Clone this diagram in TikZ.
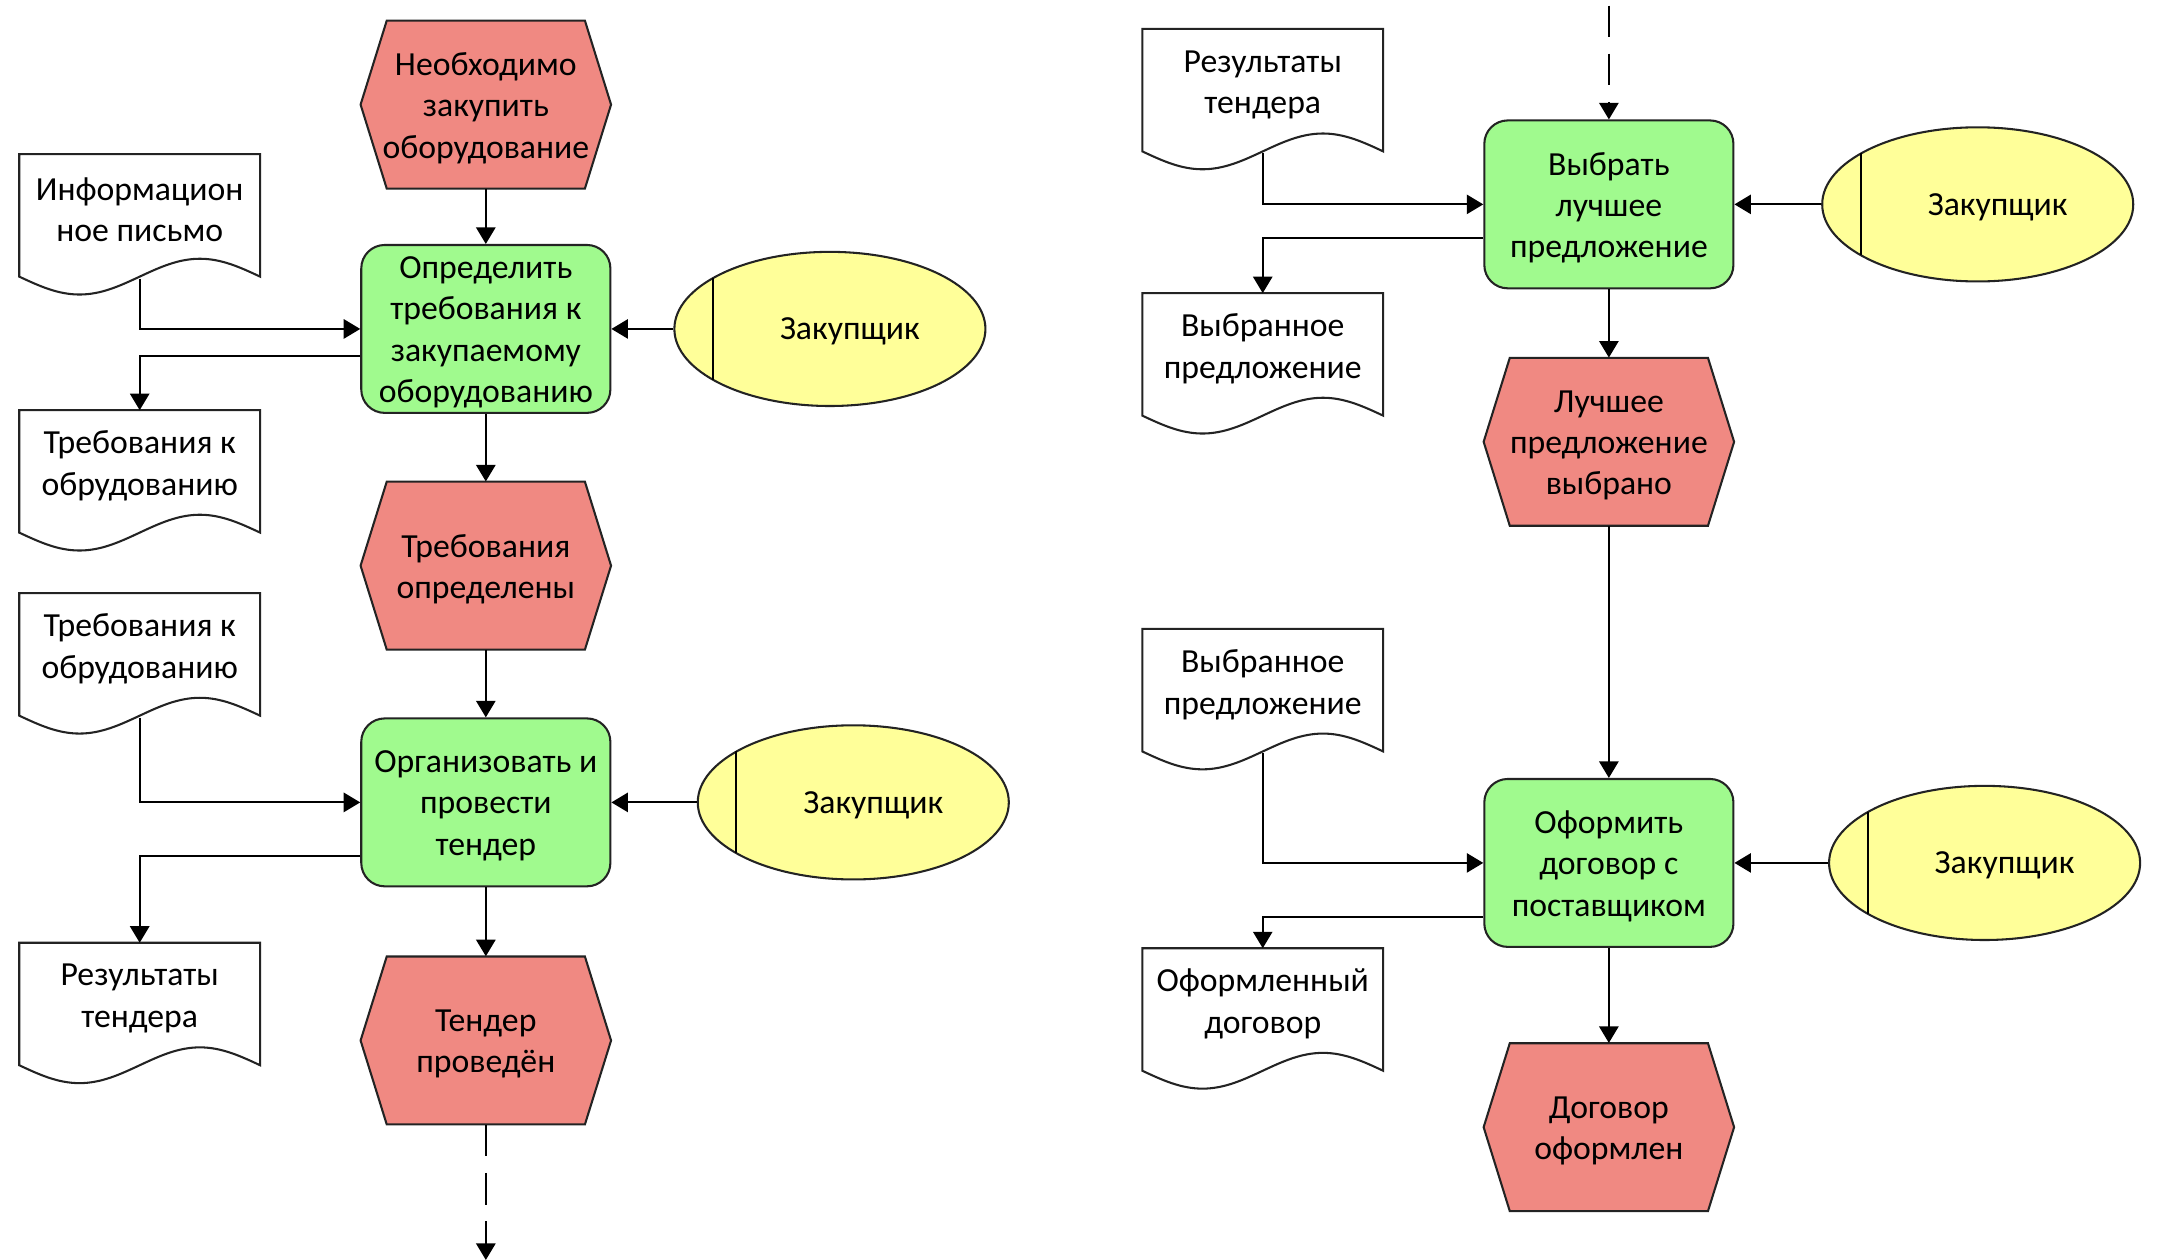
\documentclass[tikz,border=0pt]{standalone}
\usepackage{fontspec}
\setmainfont{Carlito}
\usetikzlibrary{shapes.geometric,arrows.meta,calc}

\definecolor{evtfill}{RGB}{240,137,130}
\definecolor{funfill}{RGB}{160,250,142}
\definecolor{actfill}{RGB}{255,255,153}
\definecolor{edgec}{RGB}{35,35,35}

\tikzset{
  every node/.style={font=\fontsize{24.5}{30}\selectfont, align=center, inner sep=0pt, text=black},
  conn/.style={line width=1.45pt, draw=black, -{Triangle[width=14pt,length=12pt]}},
  dashconn/.style={conn, dash pattern=on 23pt off 12pt},
  outline/.style={draw=edgec, line width=1.5pt},
  fun/.style={outline, fill=funfill, rounded corners=17pt, minimum width=181pt, minimum height=122pt},
  act/.style={outline, fill=actfill, ellipse, minimum width=226pt, minimum height=112pt},
  evtbox/.style={minimum width=182pt, minimum height=122pt},
  docbox/.style={minimum width=175pt, minimum height=90pt, anchor=north},
}

% event: name, cx, cy, text
\newcommand{\EvtNode}[4]{%
  \filldraw[outline, fill=evtfill] (#2-91,#3) -- (#2-72,#3-61) -- (#2+72,#3-61) -- (#2+91,#3) -- (#2+72,#3+61) -- (#2-72,#3+61) -- cycle;
  \node[evtbox] (#1) at (#2,#3) {};
  \node at (#2,#3+2.5) {#4};
}
% function: name, cx, cy, text
\newcommand{\FunNode}[4]{%
  \node[fun] (#1) at (#2,#3) {};
  \node at (#2,#3+2.5) {#4};
}
% document: name, left x, top y, text
\newcommand{\DocNode}[4]{%
  \filldraw[outline, fill=white] (#2,#3) -- (#2+175,#3) -- (#2+175,#3+89)
     sin (#2+131.25,#3+76) cos (#2+87.5,#3+89) sin (#2+43.75,#3+102) cos (#2,#3+89) -- cycle;
  \node[docbox] (#1) at (#2+87.5,#3) {};
  \node at (#2+87.5,#3+40.5) {#4};
}
% actor: name, cx, cy
\newcommand{\ActNode}[3]{%
  \node[act] (#1) at (#2,#3) {};
  \draw[line width=1.5pt, draw=black] (#2-85,#3-37) -- (#2-85,#3+37);
  \node at (#2+14.5,#3+2) {Закупщик};
}

\begin{document}
\begin{tikzpicture}[x=1pt,y=-1pt]
\fill[white] (0,0) rectangle (1568,915.5);
\useasboundingbox (0,0) rectangle (1568,915.5);

% ---------- left column ----------
\EvtNode{e1}{353}{76}{Необходимо\\закупить\\оборудование}
\FunNode{f1}{353}{239}{Определить\\требования к\\закупаемому\\оборудованию}
\DocNode{d1}{14}{112}{Информацион\\ное письмо}
\DocNode{d2}{14}{298}{Требования к\\обрудованию}
\ActNode{o1}{603}{239}
\EvtNode{e2}{353}{411}{Требования\\определены}
\FunNode{f2}{353}{583}{Организовать и\\провести\\тендер}
\DocNode{d3}{14}{431}{Требования к\\обрудованию}
\DocNode{d4}{14}{685}{Результаты\\тендера}
\ActNode{o2}{620}{583}
\EvtNode{e3}{353}{756}{Тендер\\проведён}
\coordinate (cont1) at (353,915.5);

\draw[conn] (e1.south) -- (f1.north);
\draw[conn] (d1.south) |- (f1.west);
\draw[conn] ([yshift=-20pt]f1.west) -| (d2.north);
\draw[conn] (o1.west) -- (f1.east);
\draw[conn] (f1.south) -- (e2.north);
\draw[conn] (e2.south) -- (f2.north);
\draw[conn] (d3.south) |- (f2.west);
\draw[conn] ([yshift=-39pt]f2.west) -| (d4.north);
\draw[conn] (o2.west) -- (f2.east);
\draw[conn] (f2.south) -- (e3.north);
\draw[dashconn] (e3.south) -- (cont1);

% ---------- right column ----------
\coordinate (cont2) at (1169,4);
\FunNode{f3}{1169}{148.5}{Выбрать\\лучшее\\предложение}
\DocNode{d5}{830}{21}{Результаты\\тендера}
\DocNode{d6}{830}{213}{Выбранное\\предложение}
\ActNode{o3}{1437}{148.5}
\EvtNode{e4}{1169}{321}{Лучшее\\предложение\\выбрано}
\FunNode{f4}{1169}{627}{Оформить\\договор с\\поставщиком}
\DocNode{d7}{830}{457}{Выбранное\\предложение}
\DocNode{d8}{830}{689}{Оформленный\\договор}
\ActNode{o4}{1442}{627}
\EvtNode{e5}{1169}{819}{Договор\\оформлен}

\draw[dashconn] (cont2) -- (f3.north);
\draw[conn] (d5.south) |- (f3.west);
\draw[conn] ([yshift=-24.5pt]f3.west) -| (d6.north);
\draw[conn] (o3.west) -- (f3.east);
\draw[conn] (f3.south) -- (e4.north);
\draw[conn] (e4.south) -- (f4.north);
\draw[conn] (d7.south) |- (f4.west);
\draw[conn] ([yshift=-39pt]f4.west) -| (d8.north);
\draw[conn] (o4.west) -- (f4.east);
\draw[conn] (f4.south) -- (e5.north);
\end{tikzpicture}
\end{document}
